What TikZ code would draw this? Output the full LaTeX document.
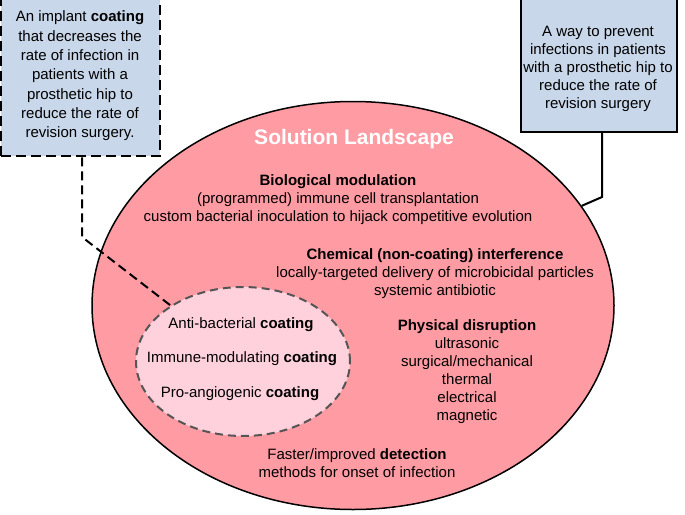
\documentclass[tikz,border=0pt]{standalone}
\usepackage{fontspec}
\setmainfont{Liberation Sans}
\usetikzlibrary{shapes.geometric}
\definecolor{bigpink}{RGB}{255,155,163}
\definecolor{lightpink}{RGB}{255,209,220}
\definecolor{boxblue}{RGB}{201,215,234}
\definecolor{dgray}{RGB}{85,85,85}
\tikzset{
  txt/.style={align=center, inner sep=0pt, text=black, font=\fontsize{15}{18}\selectfont},
  boxtxt/.style={align=center, inner sep=0pt, font=\fontsize{15}{19.3}\selectfont},
  bigell/.style={ellipse, draw=black, line width=1.5pt, fill=bigpink, minimum width=522pt, minimum height=408pt, inner sep=0pt},
  innerell/.style={ellipse, draw=dgray, line width=2pt, dash pattern=on 8pt off 5pt, fill=lightpink, minimum width=214pt, minimum height=149pt, inner sep=0pt},
  dashbox/.style={rectangle, draw=black, line width=2.6pt, dash pattern=on 10pt off 5pt, fill=boxblue, inner sep=0pt},
  solidbox/.style={rectangle, draw=black, line width=2.4pt, fill=boxblue, inner sep=0pt},
  dashlink/.style={draw=black, line width=2pt, dash pattern=on 9pt off 5pt},
  solidlink/.style={draw=black, line width=2pt},
}
\begin{document}
\begin{tikzpicture}[x=1pt,y=-1pt]
\useasboundingbox (0,0) rectangle (685,514);
% big ellipse and inner ellipse
\node[bigell] (big) at (353,305.5) {};
\node[innerell] (inner) at (243,361.5) {};
% boxes
\node[dashbox, minimum width=159pt, minimum height=161pt] (lbox) at (80.5,75.5) {};
\node[boxtxt] (ltext) at (80,76) {An implant \textbf{coating}\\that decreases the\\rate of infection in\\patients with a\\prosthetic hip to\\reduce the rate of\\revision surgery.};
\node[solidbox, minimum width=156pt, minimum height=137pt] (rbox) at (599,63.5) {};
\node[txt] (rtext) at (598,69) {A way to prevent\\infections in patients\\with a prosthetic hip to\\reduce the rate of\\revision surgery};
% connectors
\coordinate (lbend) at (82,237);
\coordinate (rbend) at (602,197);
\draw[dashlink] (lbox.south -| lbend) -- (lbend) -- (inner);
\draw[solidlink] (rbox.south -| rbend) -- (rbend) -- (big);
% texts in big ellipse
\node[inner sep=0pt, text=white, font=\fontsize{21}{24}\selectfont\bfseries] (title) at (354,139) {Solution Landscape};
\node[txt] (bio) at (338,200) {\textbf{Biological modulation}\\(programmed) immune cell transplantation\\custom bacterial inoculation to hijack competitive evolution};
\node[txt] (chem) at (435,274) {\textbf{Chemical (non-coating) interference}\\locally-targeted delivery of microbicidal particles\\systemic antibiotic};
\node[txt] (phys) at (467,372) {\textbf{Physical disruption}\\ultrasonic\\surgical/mechanical\\thermal\\electrical\\magnetic};
\node[txt] (detect) at (357,463) {Faster/improved \textbf{detection}\\methods for onset of infection};
% texts in inner ellipse
\node[txt] (anti) at (241,325) {Anti-bacterial \textbf{coating}};
\node[txt] (immune) at (242,359) {Immune-modulating \textbf{coating}};
\node[txt] (angio) at (240,394) {Pro-angiogenic \textbf{coating}};
\end{tikzpicture}
\end{document}
